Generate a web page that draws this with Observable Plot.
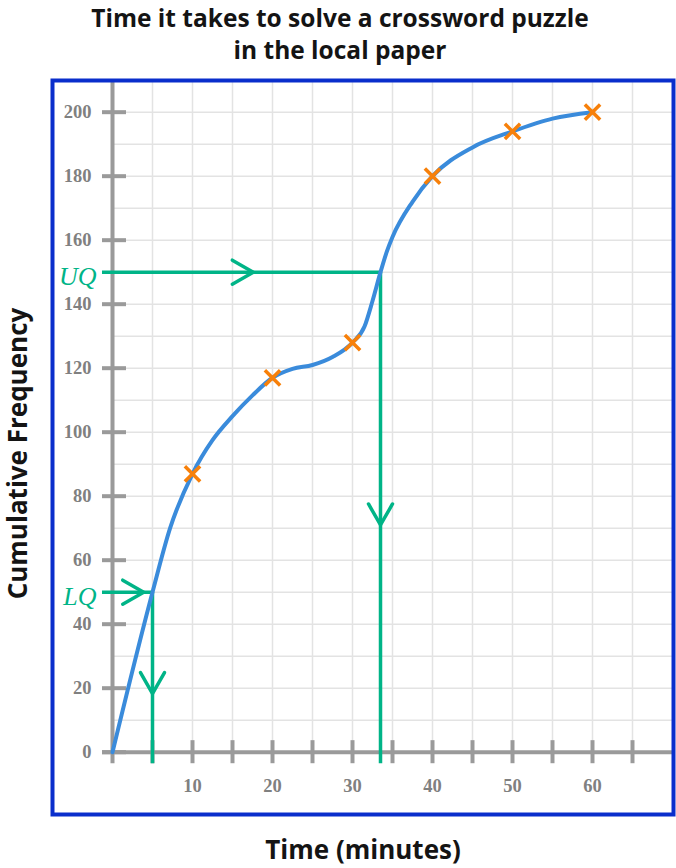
<!DOCTYPE html>
<html><head><meta charset="utf-8">
<script src="https://cdn.jsdelivr.net/npm/d3@7"></script>
<script src="https://cdn.jsdelivr.net/npm/@observablehq/plot@0.6"></script>
<style>
body{margin:0;background:#fff;width:676px;}
#title{height:74px;font-family:"Open Sans",Lato,sans-serif;font-weight:700;font-size:24.5px;line-height:32px;text-align:center;color:#141414;padding-top:2px;box-sizing:border-box;padding-left:4px;}
#chart svg{display:block;}
</style></head><body>
<div id="title">Time it takes to solve a crossword puzzle<br>in the local paper</div>
<div id="chart"></div>
<script>
// Plotted points (crosses)
const pointTimes = [10, 20, 30, 40, 50, 60];
const pointFreqs = [87, 117, 128, 180, 194, 200];
// Points
const curveTimes = [0, 5, 7.2, 10, 12.5, 15, 17.5, 20, 22.5, 25, 27.5, 30, 31.5, 32.5, 33.5, 34.3, 35, 37.5, 40, 45, 50, 55, 60];
const curveFreqs = [0, 50, 70, 87, 97.5, 105, 111.5, 117, 119.8, 121, 123.5, 128, 133, 141, 150, 156.5, 161, 172, 180, 189, 194, 198, 200];
// Grid and ticks
const xGrid = [5, 10, 15, 20, 25, 30, 35, 40, 45, 50, 55, 60, 65];
const yGrid = [10, 20, 30, 40, 50, 60, 70, 80, 90, 100, 110, 120, 130, 140, 150, 160, 170, 180, 190, 200];
const xTicks = [5, 10, 15, 20, 25, 30, 35, 40, 45, 50, 55, 60, 65];
const xLabels = [10, 20, 30, 40, 50, 60];
const yLabels = [0, 20, 40, 60, 80, 100, 120, 140, 160, 180, 200];
// Quartile annotations
const quartileNames = ["LQ", "UQ"];
const quartileTimes = [5, 33.5];
const quartileFreqs = [50, 150];
const arrowTipTimes = [3.9, 17.6];
const arrowTipFreqs = [18.3, 71];

const points = pointTimes.map((t, i) => ({t, f: pointFreqs[i]}));
const curve = curveTimes.map((t, i) => ({t, f: curveFreqs[i]}));
const quartiles = quartileNames.map((name, i) => ({name, t: quartileTimes[i], f: quartileFreqs[i], at: arrowTipTimes[i], af: arrowTipFreqs[i]}));

const xDomain = [-7.5, 70.125];
const yDomain = [-19.47, 209.9];
const GREEN = "#00b487", BLUE = "#3a8bdb", ORANGE = "#f7800a", GRAY = "#9a9a9a", FRAME = "#0a2ecc";
const chevron = {draw(ctx) { ctx.moveTo(-12, 21); ctx.lineTo(0, 0); ctx.lineTo(12, 21); }};
const serif = "'Liberation Serif', 'DejaVu Serif', serif";
const sans = "'Open Sans', Lato, sans-serif";

const chart = Plot.plot({
  width: 676, height: 794,
  marginLeft: 52, marginRight: 3, marginTop: 6, marginBottom: 54,
  x: {domain: xDomain, axis: null},
  y: {domain: yDomain, axis: null},
  style: {background: "#fff", overflow: "visible"},
  marks: [
    Plot.ruleX(xGrid, {y1: 0, y2: yDomain[1], stroke: "#e3e3e3", strokeWidth: 1.5}),
    Plot.ruleY(yGrid, {x1: 0, x2: xDomain[1], stroke: "#e3e3e3", strokeWidth: 1.5}),
    Plot.ruleY([0], {x1: -1.25, x2: xDomain[1], stroke: GRAY, strokeWidth: 4}),
    Plot.ruleX([0], {y1: -3.6, y2: yDomain[1], stroke: GRAY, strokeWidth: 4}),
    Plot.ruleX(xTicks, {y1: -3.6, y2: 3.6, stroke: GRAY, strokeWidth: 4}),
    Plot.ruleY(yLabels, {x1: -1.25, x2: 1.75, stroke: GRAY, strokeWidth: 4}),
    Plot.text(yLabels, {x: 0, y: d => d, text: d => String(d), textAnchor: "end", dx: -21, fontFamily: serif, fontWeight: "bold", fontSize: 18.5, fill: "#808080"}),
    Plot.text(xLabels, {x: d => d, y: 0, text: d => String(d), dy: 34, fontFamily: serif, fontWeight: "bold", fontSize: 18.5, fill: "#808080"}),
    Plot.ruleY(quartiles, {y: "f", x1: -1.25, x2: "t", stroke: GREEN, strokeWidth: 3.5}),
    Plot.ruleX(quartiles, {x: "t", y1: -3.6, y2: "f", stroke: GREEN, strokeWidth: 3.5}),
    Plot.vector(quartiles, {x: "at", y: "f", rotate: 90, anchor: "start", length: 0, shape: chevron, stroke: GREEN, strokeWidth: 3.5}),
    Plot.vector(quartiles, {x: "t", y: "af", rotate: 180, anchor: "start", length: 0, shape: chevron, stroke: GREEN, strokeWidth: 3.5}),
    Plot.text(quartiles, {x: 0, y: "f", text: "name", textAnchor: "end", dx: -16, dy: 4, fontFamily: serif, fontStyle: "italic", fontSize: 26, fill: GREEN}),
    Plot.line(curve, {x: "t", y: "f", curve: "monotone-x", stroke: BLUE, strokeWidth: 4}),
    Plot.dot(points, {x: "t", y: "f", symbol: "times", r: 7, stroke: ORANGE, strokeWidth: 3.5}),
    Plot.frame({stroke: FRAME, strokeWidth: 4}),
    Plot.text(["Time (minutes)"], {frameAnchor: "bottom", lineAnchor: "middle", textAnchor: "middle", dy: 36, fontFamily: sans, fontWeight: 700, fontSize: 26, letterSpacing: "0.8px", fill: "#141414"}),
    Plot.text(["Cumulative Frequency"], {frameAnchor: "left", lineAnchor: "middle", textAnchor: "middle", dx: -34, dy: 6, rotate: -90, fontFamily: sans, fontWeight: 700, fontSize: 26, fill: "#141414"})
  ]
});
document.getElementById("chart").append(chart);
</script>
</body></html>
